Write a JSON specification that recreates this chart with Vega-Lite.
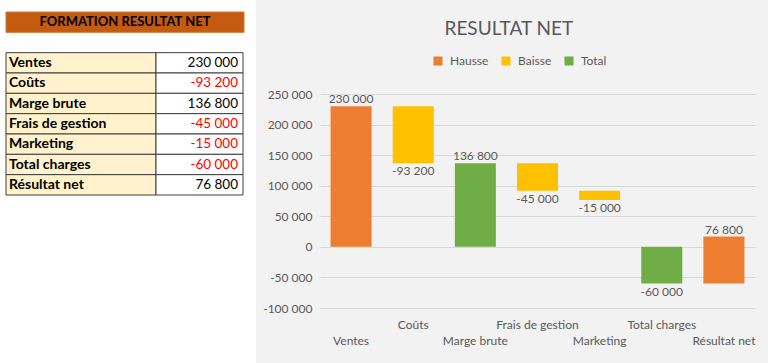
{
  "$schema": "https://vega.github.io/schema/vega-lite/v6.json",
  "background": "#f2f2f2",
  "padding": {"left": 0, "top": 0, "right": 15, "bottom": 0},
  "config": {
    "locale": {"number": {"decimal": ",", "thousands": " ", "grouping": [3], "currency": ["", " €"], "minus": "-"}},
    "font": "Lato",
    "view": {"stroke": null}
  },
  "datasets": {
    "postes": [
      {"poste": "Ventes", "montant": 230000, "debut": 0, "fin": 230000, "categorie": "Hausse", "niveau": "detail"},
      {"poste": "Coûts", "montant": -93200, "debut": 230000, "fin": 136800, "categorie": "Baisse", "niveau": "detail"},
      {"poste": "Marge brute", "montant": 136800, "debut": 0, "fin": 136800, "categorie": "Total", "niveau": "total"},
      {"poste": "Frais de gestion", "montant": -45000, "debut": 136800, "fin": 91800, "categorie": "Baisse", "niveau": "detail"},
      {"poste": "Marketing", "montant": -15000, "debut": 91800, "fin": 76800, "categorie": "Baisse", "niveau": "detail"},
      {"poste": "Total charges", "montant": -60000, "debut": 0, "fin": -60000, "categorie": "Total", "niveau": "total"},
      {"poste": "Résultat net", "montant": 76800, "debut": -60000, "fin": 16800, "categorie": "Hausse", "niveau": "total"}
    ]
  },
  "concat": [
    {
      "width": 256,
      "height": 363,
      "view": {"fill": "#ffffff", "stroke": null},
      "data": {"name": "postes"},
      "encoding": {
        "y": {
          "field": "poste",
          "type": "nominal",
          "scale": {
            "domain": ["FORMATION RESULTAT NET", " ", "Ventes", "Coûts", "Marge brute", "Frais de gestion", "Marketing", "Total charges", "Résultat net"],
            "range": [12, 195],
            "paddingInner": 0,
            "paddingOuter": 0
          },
          "axis": null
        }
      },
      "layer": [
        {
          "data": {"values": [{"poste": "FORMATION RESULTAT NET"}]},
          "mark": {"type": "rect", "fill": "#c55a11", "stroke": "#d0773a", "strokeWidth": 1},
          "encoding": {
            "x": {"datum": 0, "type": "quantitative", "scale": {"domain": [-6, 250], "nice": false, "zero": false}, "axis": null},
            "x2": {"datum": 238}
          }
        },
        {
          "data": {"values": [{"poste": "FORMATION RESULTAT NET"}]},
          "mark": {"type": "text", "fontWeight": "bold", "fontSize": 13, "color": "#000000", "align": "center", "baseline": "middle"},
          "encoding": {
            "x": {"datum": 119, "type": "quantitative"},
            "text": {"field": "poste", "type": "nominal"}
          }
        },
        {
          "mark": {"type": "rect", "fill": "#fff2cc", "stroke": "#3f3f3f", "strokeWidth": 1},
          "encoding": {
            "x": {"datum": 0, "type": "quantitative"},
            "x2": {"datum": 150}
          }
        },
        {
          "mark": {"type": "rect", "fill": "#ffffff", "stroke": "#3f3f3f", "strokeWidth": 1},
          "encoding": {
            "x": {"datum": 150, "type": "quantitative"},
            "x2": {"datum": 237}
          }
        },
        {
          "mark": {"type": "text", "fontWeight": "bold", "fontSize": 14, "color": "#000000", "align": "left", "baseline": "middle", "dx": 3},
          "encoding": {
            "x": {"datum": 0, "type": "quantitative"},
            "text": {"field": "poste", "type": "nominal"}
          }
        },
        {
          "mark": {"type": "text", "fontSize": 13.5, "align": "right", "baseline": "middle", "dx": -5},
          "encoding": {
            "x": {"datum": 237, "type": "quantitative"},
            "text": {"field": "montant", "type": "quantitative", "format": ",d"},
            "color": {"condition": {"test": "datum.montant < 0", "value": "#ff0000"}, "value": "#000000"},
            "fontWeight": {"condition": {"test": "datum.niveau === 'total'", "value": "bold"}, "value": "normal"}
          }
        }
      ]
    },
    {
      "width": 435,
      "height": 363,
      "title": {
        "text": "RESULTAT NET",
        "fontSize": 19,
        "font": "Lato",
        "fontWeight": "normal",
        "color": "#595959",
        "anchor": "middle",
        "frame": "bounds",
        "baseline": "alphabetic",
        "offset": -34,
        "dy": 20
      },
      "data": {"name": "postes"},
      "encoding": {
        "x": {
          "field": "poste",
          "type": "nominal",
          "sort": null,
          "scale": {"paddingInner": 0.34, "paddingOuter": 0.17},
          "axis": {
            "title": null,
            "domain": false,
            "ticks": false,
            "offset": -55,
            "labelAngle": 0,
            "labelColor": "#595959",
            "labelFontSize": 12,
            "labelBaseline": "top",
            "labelOverlap": false,
            "labelLimit": 0,
            "labelPadding": {"condition": {"test": "indexof(['Coûts','Frais de gestion','Total charges'], datum.value) >= 0", "value": 11}, "value": 27}
          }
        }
      },
      "layer": [
        {
          "mark": {"type": "bar"},
          "encoding": {
            "y": {
              "field": "debut",
              "type": "quantitative",
              "scale": {"domain": [-100000, 250000], "nice": false, "range": [308, 94]},
              "axis": {
                "title": null,
                "values": [-100000, -50000, 0, 50000, 100000, 150000, 200000, 250000],
                "format": ",d",
                "domain": false,
                "ticks": false,
                "labelColor": "#595959",
                "labelFontSize": 12,
                "labelPadding": 8,
                "gridColor": "#d9d9d9"
              }
            },
            "y2": {"field": "fin"},
            "color": {
              "field": "categorie",
              "type": "nominal",
              "scale": {"domain": ["Hausse", "Baisse", "Total"], "range": ["#ed7d31", "#ffc000", "#70ad47"]},
              "legend": {
                "title": null,
                "orient": "none",
                "legendX": 432,
                "legendY": 55,
                "direction": "horizontal",
                "symbolType": "square",
                "symbolSize": 81,
                "symbolStrokeWidth": 0,
                "labelFontSize": 12,
                "labelColor": "#595959",
                "labelOffset": 6,
                "columnPadding": 11
              }
            }
          }
        },
        {
          "transform": [{"filter": "datum.montant >= 0"}],
          "mark": {"type": "text", "baseline": "alphabetic", "dy": -3, "fontSize": 12, "color": "#595959"},
          "encoding": {
            "y": {"field": "fin", "type": "quantitative"},
            "text": {"field": "montant", "type": "quantitative", "format": ",d"}
          }
        },
        {
          "transform": [{"filter": "datum.montant < 0"}],
          "mark": {"type": "text", "baseline": "top", "dy": 3, "fontSize": 12, "color": "#595959"},
          "encoding": {
            "y": {"field": "fin", "type": "quantitative"},
            "text": {"field": "montant", "type": "quantitative", "format": ",d"}
          }
        }
      ]
    }
  ],
  "columns": 2,
  "spacing": 6
}
